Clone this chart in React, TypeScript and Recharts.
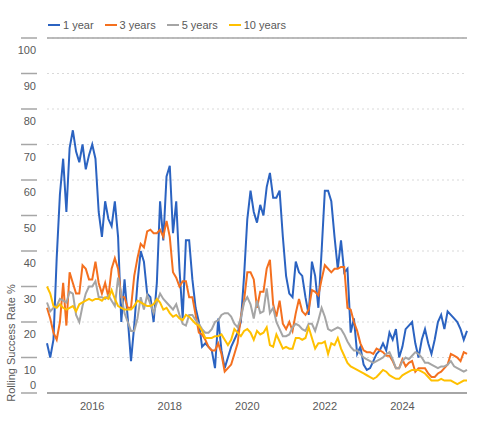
import React from 'react';
import {
  LineChart,
  Line,
  XAxis,
  YAxis,
  CartesianGrid,
  ReferenceLine,
} from 'recharts';

// monthly points, Nov 2014 .. Sep 2025
const START_YEAR = 2014;
const START_MONTH = 11;
const oneYear = [
  14, 10, 15, 38, 56, 66, 51, 69, 74, 68, 65, 70, 63, 67, 70, 66, 51, 44, 54, 49,
  47, 54, 44, 20, 32, 21, 9, 19, 31, 40, 37, 28, 27, 20, 31, 54, 43, 61, 64, 45,
  54, 35, 21, 43, 43, 32, 24, 20, 13, 14, 13, 12, 7, 21, 12, 7, 10, 13, 15, 17,
  20, 33, 49, 57, 51, 48, 53, 50, 58, 62, 55, 55, 57, 44, 33, 28, 27, 37, 34, 33,
  27, 22, 37, 33, 24, 40, 57, 57, 54, 44, 35, 43, 34, 35, 17, 21, 11, 13, 8, 6.5,
  7, 9, 11, 12, 14, 12, 17, 15, 18, 10, 13, 18, 19, 20, 14, 10, 15, 18, 14, 11,
  15, 20, 22, 18, 23, 22, 21, 20, 18, 15, 17.5,
];
const threeYears = [
  24, 21, 17, 15, 20, 31, 19, 34, 31, 28, 28, 36, 35, 32, 32, 37, 31, 28, 31, 27,
  35, 38, 35, 27, 27, 24, 24, 33, 38, 42, 41, 45.5, 46, 45, 45, 46, 44, 48.5, 44, 34,
  32.5, 30, 31.5, 31.5, 27, 27, 22, 17, 16.5, 15, 13, 12, 12, 14, 11, 6, 7, 8, 11, 14,
  21.5, 26, 34, 34, 32, 24, 28.5, 28.5, 35, 37.5, 25, 21.5, 26, 19.5, 18, 20, 17.5, 22.5, 26.5, 23,
  22, 23.5, 29, 28.5, 27.5, 32, 36, 35, 34, 35, 35, 35.5, 35.5, 24, 23.5, 20, 17.5, 14, 12, 11.5,
  11.5, 11, 12.5, 12, 11.5, 10.5, 10.5, 9, 7, 7, 9.5, 7.5, 8.5, 9, 6, 7, 7, 7, 5.5, 4.5,
  4.5, 5.5, 6, 7, 8, 11, 10.5, 10, 9, 11.5, 11,
];
const fiveYears = [
  25.5, 23, 24, 24.5, 26.5, 26, 25.5, 28.5, 28, 22, 20, 24.5, 28, 30, 30, 31.5, 27, 27, 26.5, 27.5,
  26, 24.5, 32.5, 27.5, 22.5, 20, 17.5, 17.5, 21, 27, 23.5, 27.5, 25, 22.5, 25.5, 28, 26.5, 25.5, 24.5, 23.5,
  25, 22, 19.5, 19, 22, 22, 20.5, 19.5, 18, 17, 17, 18, 20, 20.5, 22, 22.5, 22.5, 21.5, 19.5, 18.5,
  21, 25.5, 27, 25, 21, 26, 22.5, 23, 29.5, 22.5, 24, 20, 18, 16, 16, 16.5, 18.5, 19.5, 19, 18,
  17.5, 19.5, 19.5, 17.5, 20.5, 24, 21.5, 18, 17.5, 18, 18.5, 18, 16.5, 14.5, 13, 12, 12, 11, 10, 9.5,
  9, 8.5, 9, 9.5, 10, 11, 11.5, 9.5, 7, 7, 9, 10, 9.5, 10.5, 11.5, 11, 10, 8.5, 8.5, 8,
  7.5, 7, 7.5, 7.5, 8, 9, 7.5, 7, 6.5, 6, 6.5,
];
const tenYears = [
  30, 28, 24.5, 24, 25, 24, 23.5, 24, 24.5, 23, 25, 25.5, 26, 26.5, 26, 26.5, 26.5, 26, 27, 26.5,
  29, 26.5, 24.5, 24, 23.5, 23.5, 23.5, 24.5, 26, 25.5, 25, 24.5, 24.5, 25, 26.5, 25.5, 23.5, 24, 22.5, 21.5,
  22, 21, 20.5, 22, 21.5, 20.5, 19.5, 19, 17.5, 15.5, 15.5, 15.5, 16, 16, 16.5, 15, 13.5, 15, 18, 17,
  16, 17.5, 18, 17, 15, 17.5, 16.5, 17, 18.5, 13.5, 13, 16.5, 14.5, 12.5, 13, 12.5, 12.5, 15.5, 15.5, 15,
  15.5, 18.5, 15.5, 12.5, 14, 14, 14.5, 11, 14, 13.5, 15.5, 12.5, 10.5, 8.5, 7.5, 7, 6.5, 6, 5.5, 5,
  4.5, 4, 4.5, 5.5, 6.5, 6, 5, 4.5, 4, 4, 5, 5.5, 6, 6.5, 6.5, 6.5, 6, 5.5, 4.5, 3.5,
  3.5, 3.5, 4, 3.5, 3.5, 3.5, 3, 2.5, 3, 3.5, 3.5,
];
const yearTicks = ['2016', '2018', '2020', '2022', '2024'];
const yTicks = [0, 10, 20, 30, 40, 50, 60, 70, 80, 90, 100];

const series = [
  { key: 'y1', name: '1 year', color: '#2b63c1', values: oneYear },
  { key: 'y3', name: '3 years', color: '#f4701f', values: threeYears },
  { key: 'y5', name: '5 years', color: '#a5a5a5', values: fiveYears },
  { key: 'y10', name: '10 years', color: '#ffc000', values: tenYears },
];

const data = oneYear.map((_, i) => {
  const m = START_MONTH - 1 + i;
  const row: any = {
    month: `${START_YEAR + Math.floor(m / 12)}-${String((m % 12) + 1).padStart(2, '0')}`,
  };
  series.forEach((s) => (row[s.key] = s.values[i]));
  return row;
});

const FONT = '"Liberation Sans Narrow", "Arial Narrow", sans-serif';
const TEXT = '#595959';

const YTick = ({ y, payload }: any) => (
  <g>
    <line x1={21} x2={37} y1={y} y2={y} stroke="#a6a6a6" strokeWidth={1.5} />
    <text
      x={36}
      y={y + (payload.value === 0 ? -8 : 12)}
      textAnchor="end"
      dominantBaseline="central"
      fontSize={11}
      fontFamily={FONT}
      fill={TEXT}
    >
      {payload.value}
    </text>
  </g>
);

const XTick = ({ x, payload }: any) => (
  <text
    x={x}
    y={406}
    textAnchor="middle"
    dominantBaseline="central"
    fontSize={11}
    fontFamily={FONT}
    fill={TEXT}
  >
    {String(payload.value).slice(0, 4)}
  </text>
);

const YLabel = () => (
  <text
    x={10.5}
    y={343}
    transform="rotate(-90, 10.5, 343)"
    textAnchor="middle"
    dominantBaseline="central"
    fontSize={11}
    fontFamily={FONT}
    fill={TEXT}
  >
    Rolling Success Rate %
  </text>
);

export default function App() {
  return (
    <div style={{ position: 'absolute', left: 0, top: 0, width: 496, height: 429, background: '#fff' }}>
      <div
        style={{
          position: 'absolute',
          left: 48,
          top: 17,
          display: 'flex',
          gap: 11,
          fontFamily: FONT,
          fontSize: 11,
          color: TEXT,
          lineHeight: '16px',
        }}
      >
        {series.map((s) => (
          <div key={s.key} style={{ display: 'flex', alignItems: 'center' }}>
            <span style={{ width: 12, height: 2, background: s.color, marginRight: 3 }} />
            {s.name}
          </div>
        ))}
      </div>
      <LineChart
        width={496}
        height={429}
        data={data}
        margin={{ top: 38, right: 29, left: 0, bottom: 0 }}
      >
        <CartesianGrid vertical={false} stroke="#d9d9d9" strokeDasharray="2 3" />
        <XAxis
          dataKey="month"
          ticks={yearTicks.map((y) => `${y}-01`)}
          height={36}
          tickLine={false}
          axisLine={{ stroke: '#a6a6a6', strokeWidth: 2 }}
          tick={<XTick />}
        />
        <YAxis
          width={47}
          domain={[0, 100]}
          ticks={yTicks}
          axisLine={false}
          tickLine={false}
          tick={<YTick />}
          label={{ content: () => <YLabel /> }}
        />
        <ReferenceLine y={100} stroke="#a6a6a6" strokeWidth={1.5} />
        {series.map((s) => (
          <Line
            key={s.key}
            type="linear"
            dataKey={s.key}
            name={s.name}
            stroke={s.color}
            strokeWidth={2}
            dot={false}
            isAnimationActive={false}
          />
        ))}
      </LineChart>
    </div>
  );
}
